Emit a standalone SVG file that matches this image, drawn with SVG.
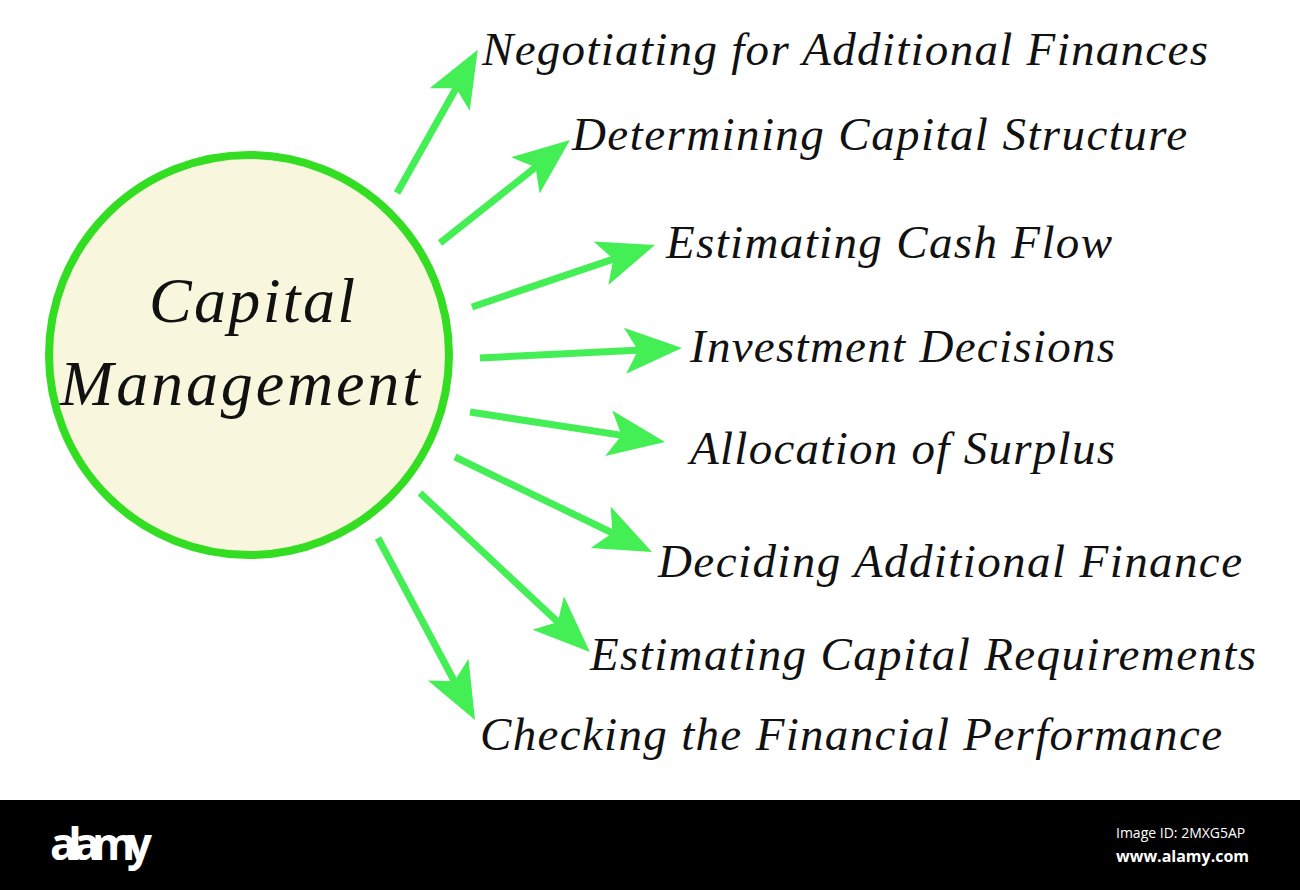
<svg xmlns="http://www.w3.org/2000/svg" width="1300" height="890" viewBox="0 0 1300 890">
<style>
.lbl{font-family:"Liberation Serif",serif;font-style:italic;font-size:47px;fill:#111}
.ttl{font-family:"Liberation Serif",serif;font-style:italic;font-size:64px;fill:#111;text-anchor:middle}
.arr{stroke:#44ee55;stroke-width:7;fill:none;marker-end:url(#ah)}
</style>
<defs>
<marker id="ah" markerUnits="userSpaceOnUse" viewBox="-30 -26 62 52" refX="0" refY="0" markerWidth="62" markerHeight="52" orient="auto">
<path d="M30,0 L-27,-23 L-14,0 L-27,23 Z" fill="#44ee55"/>
</marker>
</defs>
<rect width="1300" height="890" fill="#fff"/>
<g id="center">
<circle cx="249" cy="355" r="200" fill="#f8f6dc" stroke="#33dd22" stroke-width="8"/>
<text class="ttl" x="252" y="322" textLength="206">Capital</text>
<text class="ttl" x="240" y="405" textLength="360">Management</text>
</g>
<g id="connectors">
<path class="arr" d="M397,193 L463,76"/>
<path class="arr" d="M440,243 L546.5,158.6"/>
<path class="arr" d="M472,307 L626.6,254.6"/>
<path class="arr" d="M480,358 L652,349.5"/>
<path class="arr" d="M470,412 L635.4,437.4"/>
<path class="arr" d="M455,457 L625,539"/>
<path class="arr" d="M420,493 L568,631.5"/>
<path class="arr" d="M378,538 L460.9,693.5"/>
</g>
<g id="n1"><text class="lbl" x="482" y="65" textLength="726">Negotiating for Additional Finances</text></g>
<g id="n2"><text class="lbl" x="572" y="150" textLength="615">Determining Capital Structure</text></g>
<g id="n3"><text class="lbl" x="666" y="258" textLength="446">Estimating Cash Flow</text></g>
<g id="n4"><text class="lbl" x="690" y="362" textLength="425">Investment Decisions</text></g>
<g id="n5"><text class="lbl" x="690" y="464" textLength="425">Allocation of Surplus</text></g>
<g id="n6"><text class="lbl" x="658" y="577" textLength="584">Deciding Additional Finance</text></g>
<g id="n7"><text class="lbl" x="590" y="670" textLength="666">Estimating Capital Requirements</text></g>
<g id="n8"><text class="lbl" x="480" y="750" textLength="742">Checking the Financial Performance</text></g>
<g id="footer">
<rect x="0" y="800" width="1300" height="90" fill="#000"/>
<text x="50" y="860" font-family="'Open Sans',sans-serif" font-weight="bold" font-size="44" fill="#fff" textLength="102">alamy</text>
<text x="1116" y="838" font-family="'Open Sans',sans-serif" font-size="14" fill="#fff">Image ID: 2MXG5AP</text>
<text x="1116" y="862" font-family="'Open Sans',sans-serif" font-weight="bold" font-size="16" fill="#fff">www.alamy.com</text>
</g>
</svg>
